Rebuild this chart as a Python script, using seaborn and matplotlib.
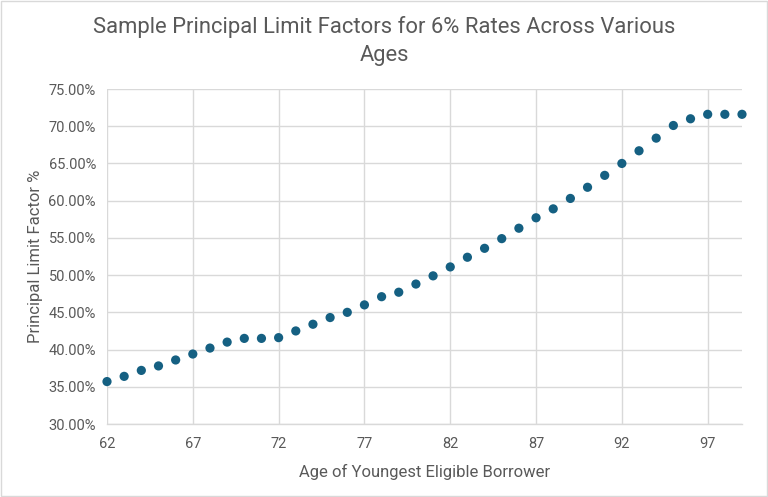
import matplotlib
matplotlib.use("Agg")
import matplotlib.pyplot as plt
import seaborn as sns
import pandas as pd
from matplotlib.ticker import FixedLocator, PercentFormatter
from matplotlib.patches import Rectangle

ages = list(range(62, 100))
plf = [35.7, 36.4, 37.2, 37.8, 38.6, 39.4, 40.2, 41.0, 41.5, 41.5,
       41.6, 42.5, 43.4, 44.3, 45.0, 46.0, 47.1, 47.7, 48.8, 49.9,
       51.1, 52.4, 53.6, 54.9, 56.3, 57.7, 58.9, 60.3, 61.8, 63.4,
       65.0, 66.7, 68.4, 70.1, 71.0, 71.6, 71.6, 71.6]
x_ticks = [62, 67, 72, 77, 82, 87, 92, 97]
y_ticks = [30, 35, 40, 45, 50, 55, 60, 65, 70, 75]

df = pd.DataFrame({"age": ages, "plf": plf})

sns.set_theme(style="white")
plt.rcParams["font.family"] = ["Roboto", "DejaVu Sans"]

fig = plt.figure(figsize=(7.68, 4.97), dpi=100)
ax = fig.add_axes([107/768, 1 - 424/497, (742-107)/768, (424-89)/497])

color = "#156082"
sns.scatterplot(data=df, x="age", y="plf", ax=ax, color=color, s=44,
                edgecolor="none", zorder=3, clip_on=False)

ax.set_xlim(62, 99)
ax.set_ylim(30, 75)
ax.xaxis.set_major_locator(FixedLocator(x_ticks))
ax.yaxis.set_major_locator(FixedLocator(y_ticks))
ax.yaxis.set_major_formatter(PercentFormatter(decimals=2))
ax.grid(True, color="#D9D9D9", linewidth=1)
ax.set_axisbelow(True)
for side in ["top", "right", "left"]:
    ax.spines[side].set_visible(False)
ax.spines["bottom"].set_color("#D9D9D9")
ax.spines["bottom"].set_linewidth(1)
ax.tick_params(axis="both", length=0, labelsize=10.5, colors="#595959", pad=8)
ax.tick_params(axis="x", pad=9)

ax.set_xlabel("Age of Youngest Eligible Borrower", fontsize=12, color="#595959", labelpad=10)
ax.set_ylabel("Principal Limit Factor %", fontsize=12, color="#595959", labelpad=4)

fig.text(0.5, 1 - 27/497, "Sample Principal Limit Factors for 6% Rates Across Various",
         ha="center", va="center", fontsize=15.8, color="#595959")
fig.text(0.5, 1 - 55/497, "Ages", ha="center", va="center", fontsize=15.8, color="#595959")

fig.patches.append(Rectangle((1/768, 1/497), 766/768, 495/497, transform=fig.transFigure,
                             fill=False, edgecolor="#D9D9D9", linewidth=1))

fig.savefig("out.png", dpi=100)
